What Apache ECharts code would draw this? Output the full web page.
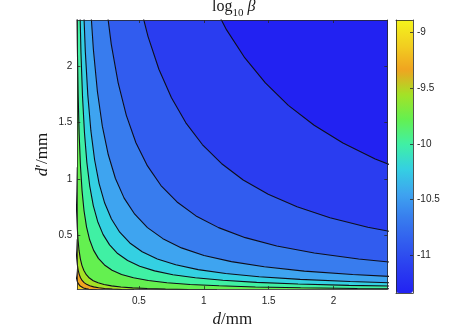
<!DOCTYPE html>
<html>
<head>
<meta charset="utf-8">
<script src="https://cdn.jsdelivr.net/npm/echarts@6/dist/echarts.min.js"></script>
<style>
  html, body { margin: 0; padding: 0; background: #ffffff; }
  #chart { width: 474px; height: 333px; }
</style>
</head>
<body>
<div id="chart"></div>
<script>
// Plotted extent of d and d' (mm) and their tick labels
const dRange = [0.025, 2.415];
const dPrimeRange = [0.02, 2.41];
const axisTicks = [0.5, 1, 1.5, 2];

// Colour-bar extent of log10(beta) and its tick labels
const betaRange = [-11.342, -8.886];
const betaTicks = [-11, -10.5, -10, -9.5, -9];

// Contour levels of log10(beta), lowest first
const levels = [-11.119, -10.896, -10.672, -10.449, -10.226, -10.003, -9.780, -9.556, -9.333, -9.110];

// Iso-lines as [d, d'] points, running from above/left of the plot round to past the right/bottom edge
const contour1 = [[1.050,2.600],[1.176,2.322],[1.317,2.073],[1.475,1.851],[1.652,1.652],[1.851,1.475],[2.073,1.317],[2.322,1.176],[2.600,1.050]];
const contour2 = [[0.496,2.600],[0.570,2.265],[0.654,1.973],[0.751,1.719],[0.862,1.497],[0.989,1.304],[1.136,1.136],[1.304,0.989],[1.497,0.862],[1.719,0.751],[1.973,0.654],[2.265,0.570],[2.600,0.496]];
const contour3 = [[0.242,2.600],[0.287,2.194],[0.340,1.852],[0.403,1.563],[0.477,1.320],[0.566,1.114],[0.670,0.940],[0.794,0.794],[0.940,0.670],[1.114,0.566],[1.320,0.477],[1.563,0.403],[1.852,0.340],[2.194,0.287],[2.600,0.242]];
const contour4 = [[0.123,2.600],[0.149,2.148],[0.180,1.775],[0.218,1.467],[0.264,1.213],[0.319,1.002],[0.386,0.828],[0.468,0.685],[0.566,0.566],[0.685,0.468],[0.828,0.386],[1.002,0.319],[1.213,0.264],[1.467,0.218],[1.775,0.180],[2.148,0.149],[2.600,0.123]];
const contour5 = [[0.0711,2.600],[0.0869,2.129],[0.1061,1.743],[0.1296,1.427],[0.1583,1.169],[0.1933,0.957],[0.2361,0.784],[0.2883,0.642],[0.3522,0.525],[0.430,0.430],[0.525,0.352],[0.642,0.288],[0.784,0.236],[0.957,0.193],[1.169,0.158],[1.427,0.130],[1.743,0.106],[2.129,0.087],[2.600,0.071]];
const contour6 = [[0.0435,2.600],[0.0533,2.119],[0.0654,1.727],[0.0803,1.408],[0.0985,1.147],[0.1209,0.935],[0.1483,0.762],[0.1820,0.621],[0.2233,0.506],[0.2740,0.413],[0.336,0.336],[0.413,0.274],[0.506,0.223],[0.621,0.182],[0.762,0.148],[0.935,0.121],[1.147,0.099],[1.408,0.080],[1.727,0.065],[2.119,0.053],[2.600,0.0435]];
const contour7 = [[0.0201,2.730],[0.0252,2.184],[0.0315,1.747],[0.0393,1.398],[0.0492,1.118],[0.0615,0.895],[0.0768,0.716],[0.0961,0.573],[0.1201,0.458],[0.1501,0.366],[0.1876,0.293],[0.2345,0.2345],[0.293,0.1876],[0.366,0.1501],[0.458,0.1201],[0.573,0.0961],[0.716,0.0768],[0.895,0.0615],[1.118,0.0492],[1.398,0.0393],[1.747,0.0315],[2.184,0.0252],[2.730,0.0201]];
const contour8 = [[0.0127,1.102],[0.0159,0.881],[0.0198,0.705],[0.0248,0.564],[0.0310,0.451],[0.0388,0.361],[0.0485,0.289],[0.0606,0.231],[0.0757,0.185],[0.0946,0.148],[0.1183,0.1183],[0.148,0.0946],[0.185,0.0757],[0.231,0.0606],[0.289,0.0485],[0.361,0.0388],[0.451,0.0310],[0.564,0.0248],[0.705,0.0198],[0.881,0.0159],[1.102,0.0127]];
const contour9 = [[0.0130,0.462],[0.0162,0.369],[0.0203,0.2955],[0.0254,0.236],[0.0317,0.189],[0.0397,0.151],[0.0496,0.121],[0.0620,0.0968],[0.0775,0.0775],[0.0968,0.0620],[0.121,0.0496],[0.151,0.0397],[0.189,0.0317],[0.236,0.0254],[0.2955,0.0203],[0.369,0.0162],[0.462,0.0130]];
const contour10 = [[0.0098,0.224],[0.0123,0.179],[0.0154,0.143],[0.0192,0.1145],[0.0240,0.0916],[0.0300,0.0733],[0.0375,0.0586],[0.0469,0.0469],[0.0586,0.0375],[0.0733,0.0300],[0.0916,0.0240],[0.1145,0.0192],[0.143,0.0154],[0.179,0.0123],[0.224,0.0098]];

const contours = [contour1, contour2, contour3, contour4, contour5, contour6, contour7, contour8, contour9, contour10];

// Colour map, evenly spread from the bottom to the top of the colour bar
const palette = ['#2222f2', '#2a3df0', '#315cef', '#387cee', '#3ea4f0', '#34d0e2',
                 '#40f0a4', '#64f050', '#a4e226', '#f0a420', '#f2d020', '#f4f41c'];

// Filled bands: item -1 is the whole plot at the lowest value, item k is the
// region between contour k and the origin corner, painted at that contour's level.
const bandData = [[-1, betaRange[0]]].concat(levels.map((v, k) => [k, v]));

function renderBand(params, api) {
  const k = api.value(0);
  let pts;
  if (k < 0) {
    pts = [[dRange[0] - 1, dPrimeRange[0] - 1], [dRange[1] + 1, dPrimeRange[0] - 1],
           [dRange[1] + 1, dPrimeRange[1] + 1], [dRange[0] - 1, dPrimeRange[1] + 1]];
  } else {
    const line = contours[k];
    const first = line[0];
    const last = line[line.length - 1];
    pts = line.concat([[last[0], -1], [-1, -1], [-1, first[1]]]);
  }
  const color = api.visual('color');
  return {
    type: 'polygon',
    z2: k + 2,
    shape: { points: pts.map(p => api.coord(p)) },
    style: { fill: color, stroke: color, lineWidth: 0.4 }
  };
}

const axisColor = '#262626';
const serif = 'Liberation Serif, Times New Roman, serif';
const labelFont = { fontFamily: 'Liberation Sans, Arial, sans-serif', fontSize: 10, color: '#1e1e1e' };
const nameRich = {
  i: { fontFamily: serif, fontStyle: 'italic', fontWeight: 'normal', fontSize: 17, color: '#1a1a1a' },
  n: { fontFamily: serif, fontWeight: 'normal', fontSize: 17, color: '#1a1a1a' }
};

const plotGrid = { left: 77.3, top: 20, width: 310, height: 272.7 };
const barGrid = { left: 396, top: 20, width: 17, height: 273 };

function frameAxis(extra) {
  return Object.assign({
    type: 'value',
    axisLine: { show: true, onZero: false, lineStyle: { color: axisColor, width: 0.8 } },
    axisTick: { show: false },
    axisLabel: { show: false },
    splitLine: { show: false },
    z: 10
  }, extra);
}

const chart = echarts.init(document.getElementById('chart'), null, { renderer: 'canvas' });

chart.setOption({
  animation: false,
  backgroundColor: '#ffffff',
  title: {
    left: 212,
    top: -1,
    padding: 0,
    text: '{a|log}{s|10}{b| β}',
    textStyle: {
      fontWeight: 'normal',
      rich: {
        a: { fontFamily: serif, fontWeight: 'normal', fontSize: 16, color: '#1a1a1a', verticalAlign: 'bottom', padding: [0, 0, 4, 0] },
        s: { fontFamily: serif, fontWeight: 'normal', fontSize: 11, color: '#1a1a1a', verticalAlign: 'bottom' },
        b: { fontFamily: serif, fontStyle: 'italic', fontWeight: 'normal', fontSize: 16, color: '#1a1a1a', verticalAlign: 'bottom', padding: [0, 0, 4, 0] }
      }
    }
  },
  grid: [
    Object.assign({ containLabel: false, show: false }, plotGrid),
    Object.assign({ containLabel: false, show: false }, barGrid)
  ],
  xAxis: [
    {
      type: 'value', gridIndex: 0, position: 'bottom',
      min: dRange[0], max: dRange[1],
      axisLine: { show: true, onZero: false, lineStyle: { color: axisColor, width: 0.8 } },
      axisTick: { show: true, inside: true, length: 3, customValues: axisTicks, lineStyle: { color: axisColor, width: 0.8 } },
      axisLabel: Object.assign({ customValues: axisTicks, margin: 7 }, labelFont),
      splitLine: { show: false },
      name: '{i|d}{n|/mm}',
      nameLocation: 'middle',
      nameGap: 20,
      nameTextStyle: { rich: nameRich },
      z: 10
    },
    frameAxis({ gridIndex: 0, position: 'top', min: dRange[0], max: dRange[1],
      axisTick: { show: true, inside: true, length: 3, customValues: axisTicks, lineStyle: { color: axisColor, width: 0.8 } } }),
    frameAxis({ gridIndex: 1, position: 'bottom', min: 0, max: 1 }),
    frameAxis({ gridIndex: 1, position: 'top', min: 0, max: 1 })
  ],
  yAxis: [
    {
      type: 'value', gridIndex: 0, position: 'left',
      min: dPrimeRange[0], max: dPrimeRange[1],
      axisLine: { show: true, onZero: false, lineStyle: { color: axisColor, width: 0.8 } },
      axisTick: { show: true, inside: true, length: 3, customValues: axisTicks, lineStyle: { color: axisColor, width: 0.8 } },
      axisLabel: Object.assign({ customValues: axisTicks, margin: 5 }, labelFont),
      splitLine: { show: false },
      name: '{i|d}{n|′/mm}',
      nameLocation: 'middle',
      nameRotate: 90,
      nameGap: 26,
      nameMoveOverlap: false,
      nameTextStyle: { rich: nameRich },
      z: 10
    },
    frameAxis({ gridIndex: 0, position: 'right', min: dPrimeRange[0], max: dPrimeRange[1],
      axisTick: { show: true, inside: true, length: 3, customValues: axisTicks, lineStyle: { color: axisColor, width: 0.8 } } }),
    frameAxis({ gridIndex: 1, position: 'left', min: betaRange[0], max: betaRange[1] }),
    frameAxis({ gridIndex: 1, position: 'right', min: betaRange[0], max: betaRange[1],
      axisTick: { show: true, inside: true, length: 3, customValues: betaTicks, lineStyle: { color: axisColor, width: 0.8 } },
      axisLabel: Object.assign({ show: true, customValues: betaTicks, margin: 4 }, labelFont) })
  ],
  visualMap: {
    type: 'continuous',
    min: betaRange[0],
    max: betaRange[1],
    dimension: 1,
    seriesIndex: 0,
    calculable: false,
    hoverLink: false,
    inRange: { color: palette },
    orient: 'vertical',
    left: barGrid.left,
    top: barGrid.top,
    itemWidth: barGrid.width,
    itemHeight: barGrid.height,
    padding: 0,
    text: null,
    z: 4
  },
  series: [
    {
      type: 'custom',
      coordinateSystem: 'cartesian2d',
      xAxisIndex: 0,
      yAxisIndex: 0,
      clip: true,
      silent: true,
      renderItem: renderBand,
      data: bandData,
      z: 1
    }
  ].concat(contours.map(points => ({
    type: 'line',
    xAxisIndex: 0,
    yAxisIndex: 0,
    data: points,
    symbol: 'none',
    showSymbol: false,
    silent: true,
    clip: true,
    lineStyle: { color: '#0e0e1c', width: 1.1 },
    z: 3
  })))
});
</script>
</body>
</html>
